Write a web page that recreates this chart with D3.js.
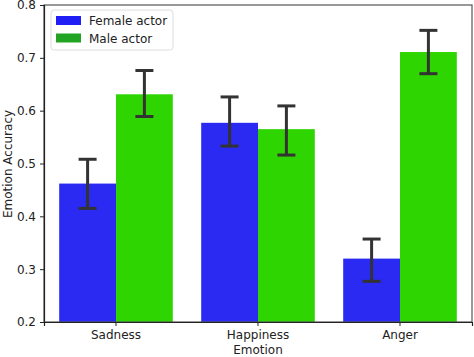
<!DOCTYPE html>
<html><head><meta charset="utf-8">
<script src="https://cdn.jsdelivr.net/npm/d3@7"></script>
<style>body{margin:0;background:#fff}svg{display:block}text{font-family:"DejaVu Sans",sans-serif}</style>
</head><body><svg id="c" width="474" height="357"></svg>
<script>
const categories = ["Sadness","Happiness","Anger"];
const seriesNames = ["Female actor","Male actor"];
const femaleMean = [0.462, 0.577, 0.320];
const femaleLow  = [0.415, 0.533, 0.277];
const femaleHigh = [0.508, 0.626, 0.357];
const maleMean = [0.631, 0.565, 0.711];
const maleLow  = [0.589, 0.516, 0.670];
const maleHigh = [0.676, 0.609, 0.752];
const yTicks = [0.2,0.3,0.4,0.5,0.6,0.7,0.8];

const svg = d3.select("#c");
const L=44, R=472, T=5, B=322;
const x = d3.scaleBand().domain(categories).range([L,R]).paddingInner(0.2).paddingOuter(0.107);
const sub = d3.scaleBand().domain(seriesNames).range([0,x.bandwidth()]);
const y = d3.scaleLinear().domain([0.2,0.8]).range([B,T]);
const barColors = ["#2a2af2","#2ed500"];
const legendColors = ["#1f1ff5","#22a322"];

const series = [
  {name:seriesNames[0], mean:femaleMean, lo:femaleLow, hi:femaleHigh},
  {name:seriesNames[1], mean:maleMean, lo:maleLow, hi:maleHigh}
];
series.forEach((s,si)=>{
  const g = svg.append("g");
  g.selectAll("rect").data(categories).join("rect")
    .attr("x",c=>x(c)+sub(s.name)).attr("width",sub.bandwidth())
    .attr("y",(c,i)=>y(s.mean[i])).attr("height",(c,i)=>y(0.2)-y(s.mean[i]))
    .attr("fill",barColors[si]);
});
series.forEach(s=>{
  const g = svg.append("g").attr("stroke","#333").attr("stroke-width",3);
  categories.forEach((c,i)=>{
    const cx = x(c)+sub(s.name)+sub.bandwidth()/2;
    g.append("line").attr("x1",cx).attr("x2",cx).attr("y1",y(s.lo[i])).attr("y2",y(s.hi[i]));
    g.append("line").attr("x1",cx-9).attr("x2",cx+9).attr("y1",y(s.lo[i])).attr("y2",y(s.lo[i]));
    g.append("line").attr("x1",cx-9).attr("x2",cx+9).attr("y1",y(s.hi[i])).attr("y2",y(s.hi[i]));
  });
});
// frame
svg.append("rect").attr("x",L).attr("y",T).attr("width",R-L).attr("height",B-T)
  .attr("fill","none").attr("stroke","#555").attr("stroke-width",1.2);
// axes
const ya = svg.append("g").attr("transform",`translate(${L},0)`)
  .call(d3.axisLeft(y).tickValues(yTicks).tickFormat(d3.format(".1f")).tickSize(4).tickPadding(4));
const xa = svg.append("g").attr("transform",`translate(0,${B})`)
  .call(d3.axisBottom(x).tickSize(4).tickPadding(4));
[ya,xa].forEach(a=>{
  a.select(".domain").attr("stroke","#222").attr("stroke-width",1.2);
  a.selectAll(".tick line").attr("stroke","#222");
  a.selectAll(".tick text").attr("font-size",12).attr("fill","#222").style("font-family","DejaVu Sans");
});
svg.append("text").attr("x",x("Happiness")+x.bandwidth()/2).attr("y",354).attr("text-anchor","middle")
  .attr("font-size",12).attr("fill","#222").text("Emotion");
svg.append("text").attr("transform","translate(12,164) rotate(-90)").attr("text-anchor","middle")
  .attr("font-size",12).attr("fill","#222").text("Emotion Accuracy");
// legend
const lg = svg.append("g");
lg.append("rect").attr("x",51).attr("y",10).attr("width",122).attr("height",40).attr("rx",3)
  .attr("fill","#fff").attr("fill-opacity",0.8).attr("stroke","#ddd");
seriesNames.forEach((n,i)=>{
  lg.append("rect").attr("x",56).attr("y",16+i*17.5).attr("width",25).attr("height",9).attr("fill",legendColors[i]);
  lg.append("text").attr("x",89).attr("y",25+i*17.5).attr("font-size",12).attr("fill","#222").text(n);
});
</script></body></html>
